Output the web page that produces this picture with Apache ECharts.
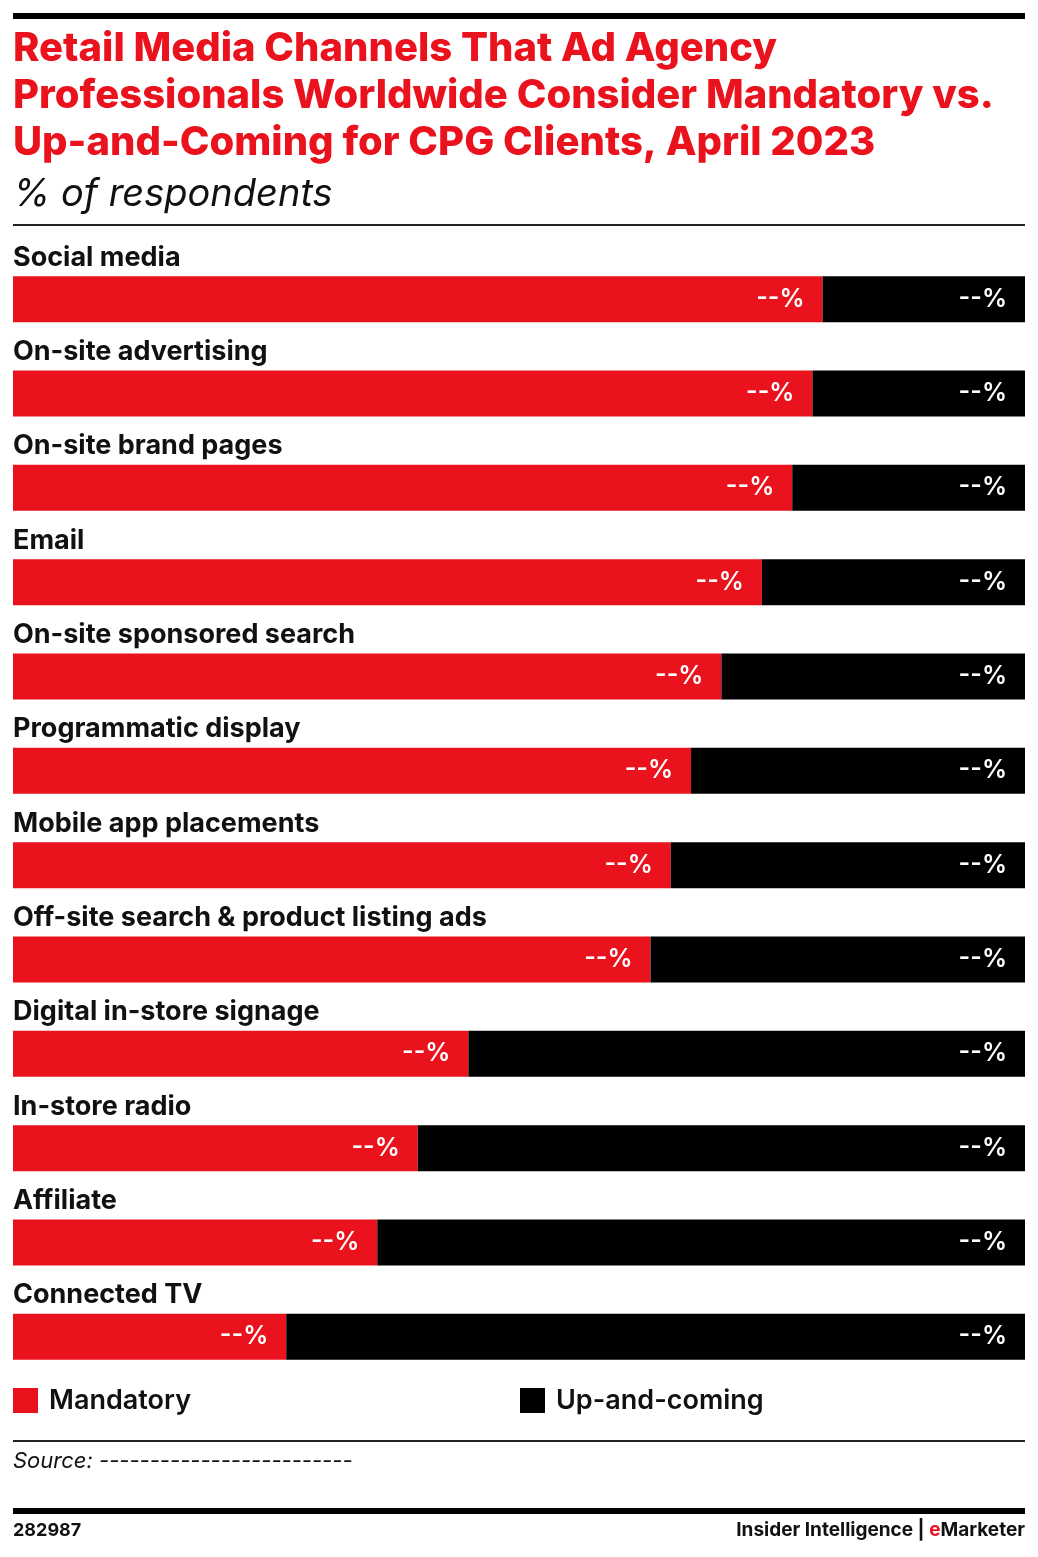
<!DOCTYPE html>
<html>
<head>
<meta charset="utf-8">
<script src="https://cdn.jsdelivr.net/npm/echarts@6/dist/echarts.min.js"></script>
<style>
  html, body { margin: 0; padding: 0; background: #fff; }
  #chart { width: 1038px; height: 1557px; }
</style>
</head>
<body>
<div id="chart"></div>
<script>
// data
const categories = [
  'Social media',
  'On-site advertising',
  'On-site brand pages',
  'Email',
  'On-site sponsored search',
  'Programmatic display',
  'Mobile app placements',
  'Off-site search & product listing ads',
  'Digital in-store signage',
  'In-store radio',
  'Affiliate',
  'Connected TV'
];
const mandatory = [80, 79, 77, 74, 70, 67, 65, 63, 45, 40, 36, 27];
const upAndComing = [20, 21, 23, 26, 30, 33, 35, 37, 55, 60, 64, 73];
const seriesNames = ['Mandatory', 'Up-and-coming'];

const RED = '#e9121d';
const FONT = 'Inter, "Noto Sans", sans-serif';

var chartDom = document.getElementById('chart');
var myChart = echarts.init(chartDom);
var option;

const barLabel = {
  show: true,
  position: 'insideRight',
  distance: 18,
  color: '#fff',
  fontFamily: FONT,
  fontSize: 25,
  fontWeight: 600,
  formatter: function () { return '--%'; }
};

const legendText = { fontFamily: FONT, fontSize: 27, fontWeight: 600, color: '#111', padding: [0, 0, 0, 6] };

option = {
  animation: false,
  grid: { left: 13, right: 13, top: 252, height: 1132 },
  xAxis: {
    type: 'value',
    min: 0,
    max: 100,
    show: false
  },
  yAxis: {
    type: 'category',
    data: categories,
    inverse: true,
    axisLine: { show: false },
    axisTick: { show: false },
    axisLabel: {
      inside: true,
      margin: 0,
      align: 'left',
      verticalAlign: 'bottom',
      padding: [0, 0, 28, 0],
      color: '#111',
      fontFamily: FONT,
      fontSize: 27,
      fontWeight: 700
    }
  },
  legend: [
    {
      data: [seriesNames[0]],
      left: 13, top: 1387, padding: 0,
      itemWidth: 25, itemHeight: 25,
      icon: 'rect',
      textStyle: legendText
    },
    {
      data: [seriesNames[1]],
      left: 520, top: 1387, padding: 0,
      itemWidth: 25, itemHeight: 25,
      icon: 'rect',
      textStyle: legendText
    }
  ],
  series: [
    {
      name: seriesNames[0],
      type: 'bar',
      stack: 'total',
      barWidth: 46,
      data: mandatory,
      itemStyle: { color: RED },
      label: barLabel
    },
    {
      name: seriesNames[1],
      type: 'bar',
      stack: 'total',
      barWidth: 46,
      data: upAndComing,
      itemStyle: { color: '#000' },
      label: barLabel
    }
  ],
  graphic: [
    { type: 'rect', shape: { x: 13, y: 13, width: 1012, height: 6 }, style: { fill: '#000' } },
    {
      type: 'text', left: 13, top: 25,
      style: {
        text: 'Retail Media Channels That Ad Agency\nProfessionals Worldwide Consider Mandatory vs.\nUp-and-Coming for CPG Clients, April 2023',
        fill: RED, font: '800 40px ' + FONT, lineHeight: 47
      }
    },
    {
      type: 'text', left: 13, top: 176,
      style: { text: '% of respondents', fill: '#111', font: 'italic 38px ' + FONT }
    },
    { type: 'rect', shape: { x: 13, y: 224, width: 1012, height: 2 }, style: { fill: '#222' } },
    { type: 'rect', shape: { x: 13, y: 1440, width: 1012, height: 2 }, style: { fill: '#222' } },
    {
      type: 'text', left: 13, top: 1450,
      style: { text: 'Source: -------------------------', fill: '#111', font: 'italic 22px ' + FONT }
    },
    { type: 'rect', shape: { x: 13, y: 1508, width: 1012, height: 6 }, style: { fill: '#000' } },
    {
      type: 'text', left: 13, top: 1522,
      style: { text: '282987', fill: '#111', font: 'bold 18px ' + FONT }
    },
    {
      type: 'text', right: 13, top: 1521,
      style: {
        text: '{a|Insider Intelligence | }{b|e}{a|Marketer}',
        rich: {
          a: { fill: '#111', font: '700 19px ' + FONT },
          b: { fill: RED, font: '700 19px ' + FONT }
        }
      }
    }
  ]
};

option && myChart.setOption(option);
</script>
</body>
</html>
